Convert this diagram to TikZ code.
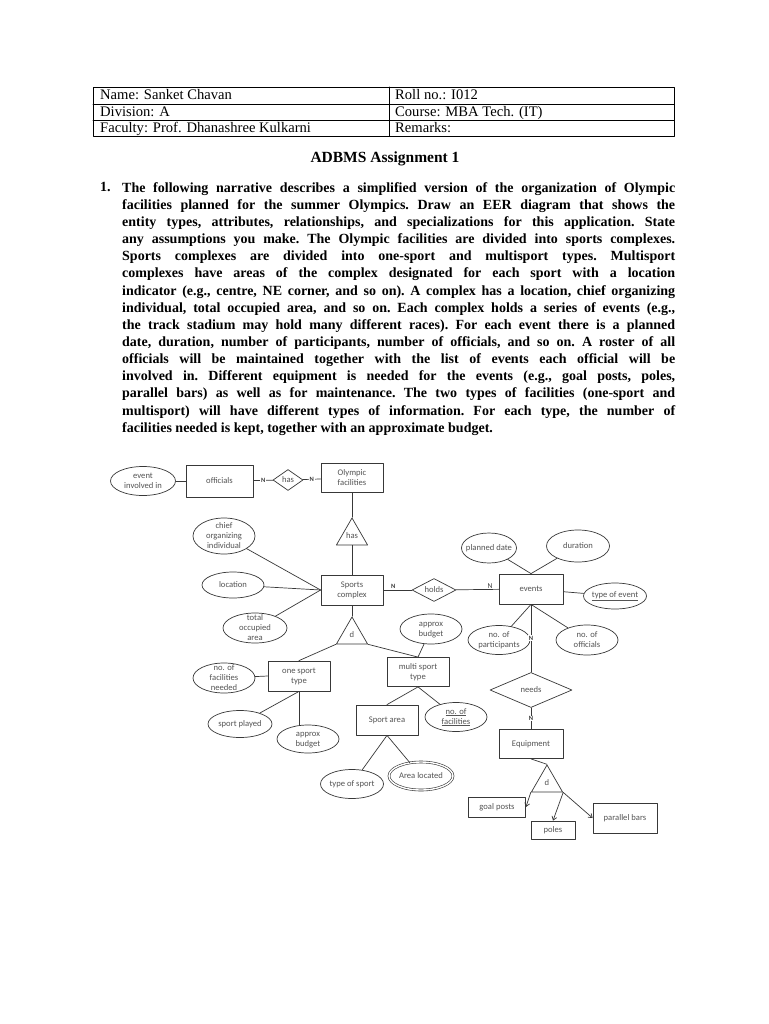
\documentclass[tikz,border=0pt]{standalone}
\usepackage{fontspec}
\setmainfont{Liberation Serif}
\newfontfamily\carlito{Carlito}
\usetikzlibrary{shapes.geometric,arrows.meta,positioning}
\definecolor{erline}{gray}{0.22}
\definecolor{ertext}{gray}{0.33}
\newcommand{\erfont}{\carlito\fontsize{8.6}{10}\selectfont}
% text of fixed-size shapes, kept out of the shape size
\newcommand{\zt}[1]{\smash{\makebox[0pt]{\raisebox{-2.3pt}{\begin{tabular}{@{}c@{}}#1\end{tabular}}}}}
\newcommand{\jl}[1]{\makebox[553pt][s]{\spaceskip=0.25em plus 0.5em minus 0.1em #1}}
\begin{document}
\begin{tikzpicture}[x=1pt, y=-1pt, line cap=round, line join=round, >={Straight Barb[length=3.5pt,width=5pt]}]
	\tikzset{
		ent/.style={draw=erline, line width=0.8pt, minimum width=62pt, minimum height=30pt, inner sep=0pt, font=\erfont, text=ertext},
		attr/.style={ellipse, draw=erline, line width=0.7pt, minimum width=62pt, minimum height=29pt, inner sep=0pt, font=\erfont, text=ertext},
		rel/.style={diamond, draw=erline, line width=0.7pt, inner sep=0pt, font=\erfont, text=ertext},
		isa/.style={regular polygon, regular polygon sides=3, draw=erline, line width=0.7pt, minimum size=36pt, inner sep=0pt, font=\erfont, text=ertext},
		erl/.style={draw=erline, line width=0.7pt},
		nlab/.style={font=\carlito\fontsize{6.5}{7}\selectfont\bfseries, text=erline, inner sep=0.8pt, fill=white},
		cell/.style={anchor=base west, inner sep=0pt, font=\fontsize{14.6}{16}\selectfont},
		qpara/.style={anchor=north west, inner sep=0pt, align=left, font=\fontsize{14}{17.14}\selectfont\bfseries\frenchspacing}
	}
	\useasboundingbox[fill=white] (0,0) rectangle (768,1024);

	% header table
	\draw[line width=0.8pt] (93,87) rectangle (674,136);
	\draw[line width=0.8pt] (93,104) -- (674,104) (93,120) -- (674,120) (389,87) -- (389,136);
	\node[cell] (name) at (100,100) {Name: Sanket Chavan};
	\node[cell] (roll) at (395,100) {Roll no.: I012};
	\node[cell] (div) at (100,116.5) {Division: A};
	\node[cell] (course) at (395,116.5) {Course: MBA Tech. (IT)};
	\node[cell] (fac) at (100,133) {Faculty: Prof. Dhanashree Kulkarni};
	\node[cell] (rem) at (395,133) {Remarks:};

	\node[font=\fontsize{15.5}{18}\selectfont\bfseries] (title) at (385,159) {ADBMS Assignment 1};

	% question
	\node[anchor=base west, inner sep=0pt, font=\fontsize{14}{17.14}\selectfont\bfseries] (qnum) at (100,192) {1.};
	\node[qpara] (qtext) at (122,180) {%
		\jl{\strut The following narrative describes a simplified version of the organization of Olympic}\\
		\jl{facilities planned for the summer Olympics. Draw an EER diagram that shows the}\\
		\jl{entity types, attributes, relationships, and specializations for this application. State}\\
		\jl{any assumptions you make. The Olympic facilities are divided into sports complexes.}\\
		\jl{Sports complexes are divided into one-sport and multisport types. Multisport}\\
		\jl{complexes have areas of the complex designated for each sport with a location}\\
		\jl{indicator (e.g., centre, NE corner, and so on). A complex has a location, chief organizing}\\
		\jl{individual, total occupied area, and so on. Each complex holds a series of events (e.g.,}\\
		\jl{the track stadium may hold many different races). For each event there is a planned}\\
		\jl{date, duration, number of participants, number of officials, and so on. A roster of all}\\
		\jl{officials will be maintained together with the list of events each official will be}\\
		\jl{involved in. Different equipment is needed for the events (e.g., goal posts, poles,}\\
		\jl{parallel bars) as well as for maintenance. The two types of facilities (one-sport and}\\
		\jl{multisport) will have different types of information. For each type, the number of}\\
		facilities needed is kept, together with an approximate budget.};

	% EER diagram
	\node[attr, minimum width=65pt, minimum height=29pt] (evinv) at (143,481) {\zt{event\\involved in}};
	\node[ent, minimum width=67pt, minimum height=32pt] (officials) at (219.5,481) {\zt{officials}};
	\node[rel, minimum width=30pt, minimum height=21pt] (has) at (288,480) {\zt{has}};
	\node[ent, minimum height=29pt] (olymp) at (352,478) {\zt{Olympic\\facilities}};
	\node[isa] (hastri) at (352,536) {\zt{has}};
	\node[ent] (sports) at (352,590) {\zt{Sports\\complex}};
	\node[attr, minimum height=36pt] (chief) at (224,536) {\zt{chief\\organizing\\individual}};
	\node[attr, minimum height=26pt] (loc) at (233,585) {\zt{location}};
	\node[attr, minimum width=64pt, minimum height=30pt] (total) at (255,628) {\zt{total\\occupied\\area}};
	\node[rel, minimum width=44pt, minimum height=23pt] (holds) at (434,590) {\zt{holds}};
	\node[ent, minimum width=64pt] (events) at (531,589) {\zt{events}};
	\node[attr, minimum width=55pt, minimum height=30pt] (pdate) at (489,548) {\zt{planned date}};
	\node[attr, minimum width=63pt, minimum height=32pt] (dur) at (578,546) {\zt{duration}};
	\node[attr, minimum width=63pt, minimum height=26pt] (tevent) at (615,596) {\zt{\underline{type of event}}};
	\node[attr] (npart) at (499,640) {\zt{no. of\\participants}};
	\node[attr, minimum height=30pt] (noff) at (587,640) {\zt{no. of\\officials}};
	\node[rel, minimum width=82pt, minimum height=35pt] (needs) at (531,690) {\zt{needs}};
	\node[ent, minimum width=64pt, minimum height=29pt] (equip) at (531,744) {\zt{Equipment}};
	\node[isa] (dtwo) at (547,783) {\zt{d}};
	\node[ent, minimum width=57pt, minimum height=20pt] (goal) at (497,807) {\zt{goal posts}};
	\node[ent, minimum width=44pt, minimum height=18pt] (poles) at (553,830) {\zt{poles}};
	\node[ent, minimum width=64pt] (pbars) at (625,818) {\zt{parallel bars}};
	\node[isa] (done) at (352,635) {\zt{d}};
	\node[ent] (onesp) at (299,676) {\zt{one sport\\type}};
	\node[ent, minimum height=29pt] (multisp) at (418,672) {\zt{multi sport\\type}};
	\node[attr, minimum height=30pt] (budmulti) at (431,629) {\zt{approx\\budget}};
	\node[attr, minimum height=30pt] (nfacneed) at (224,678) {\zt{no. of\\facilities\\needed}};
	\node[attr, minimum width=64pt, minimum height=27pt] (splayed) at (240,724) {\zt{sport played}};
	\node[attr, minimum height=28pt] (budone) at (308,739) {\zt{approx\\budget}};
	\node[ent] (sparea) at (387,720) {\zt{Sport area}};
	\node[attr] (nfac) at (456,717) {\zt{\underline{no. of}\\\underline{facilities}}};
	\node[attr, minimum width=63pt] (tsport) at (352,784) {\zt{type of sport}};
	\node[attr, minimum width=64pt, minimum height=28pt, double=white, double distance=1.4pt, line width=0.6pt] (arealoc) at (421,776) {\zt{Area located}};

	\draw[erl] (evinv) -- (officials);
	\draw[erl] (officials) -- node[nlab]{N} (has);
	\draw[erl] (has) -- node[nlab]{N} (olymp);
	\draw[erl] (olymp) -- (hastri.corner 1);
	\draw[erl] (hastri.south) -- (sports);
	\draw[erl] (chief) -- (sports.west);
	\draw[erl] (loc) -- (sports.west);
	\draw[erl] (total) -- (sports.west);
	\draw[erl] (sports) -- node[nlab, above, pos=0.35, fill=none]{N} (holds);
	\draw[erl] (holds) -- node[nlab, above, pos=0.8, fill=none, font=\carlito\fontsize{7.5}{8}\selectfont]{N} (events);
	\draw[erl] (pdate) -- (events.north);
	\draw[erl] (dur) -- (events.north);
	\draw[erl] (events) -- (tevent);
	\draw[erl] (events.south) -- (npart);
	\draw[erl] (events.south) -- (noff);
	\draw[erl] (events) -- node[nlab]{N} (needs);
	\draw[erl] (needs) -- node[nlab]{N} (equip);
	\draw[erl] (equip.south) -- (dtwo.corner 1);
	\draw[erl, ->] (dtwo.corner 2) -- (goal.east);
	\draw[erl, ->] (dtwo.corner 3) -- (poles.north);
	\draw[erl, ->] (dtwo.corner 3) -- (pbars.west);
	\draw[erl] (sports) -- (done.corner 1);
	\draw[erl] (done.corner 2) -- (onesp.north);
	\draw[erl] (done.corner 3) -- (multisp.north);
	\draw[erl] (budmulti) -- (multisp.north);
	\draw[erl] (nfacneed) -- (onesp.west);
	\draw[erl] (onesp.south) -- (splayed);
	\draw[erl] (onesp.south) -- (onesp.south |- budone.north);
	\draw[erl] (multisp.south) -- (sparea.north);
	\draw[erl] (multisp.south) -- (nfac);
	\draw[erl] (sparea.south) -- (tsport);
	\draw[erl] (sparea.south) -- (arealoc);
\end{tikzpicture}
\end{document}
